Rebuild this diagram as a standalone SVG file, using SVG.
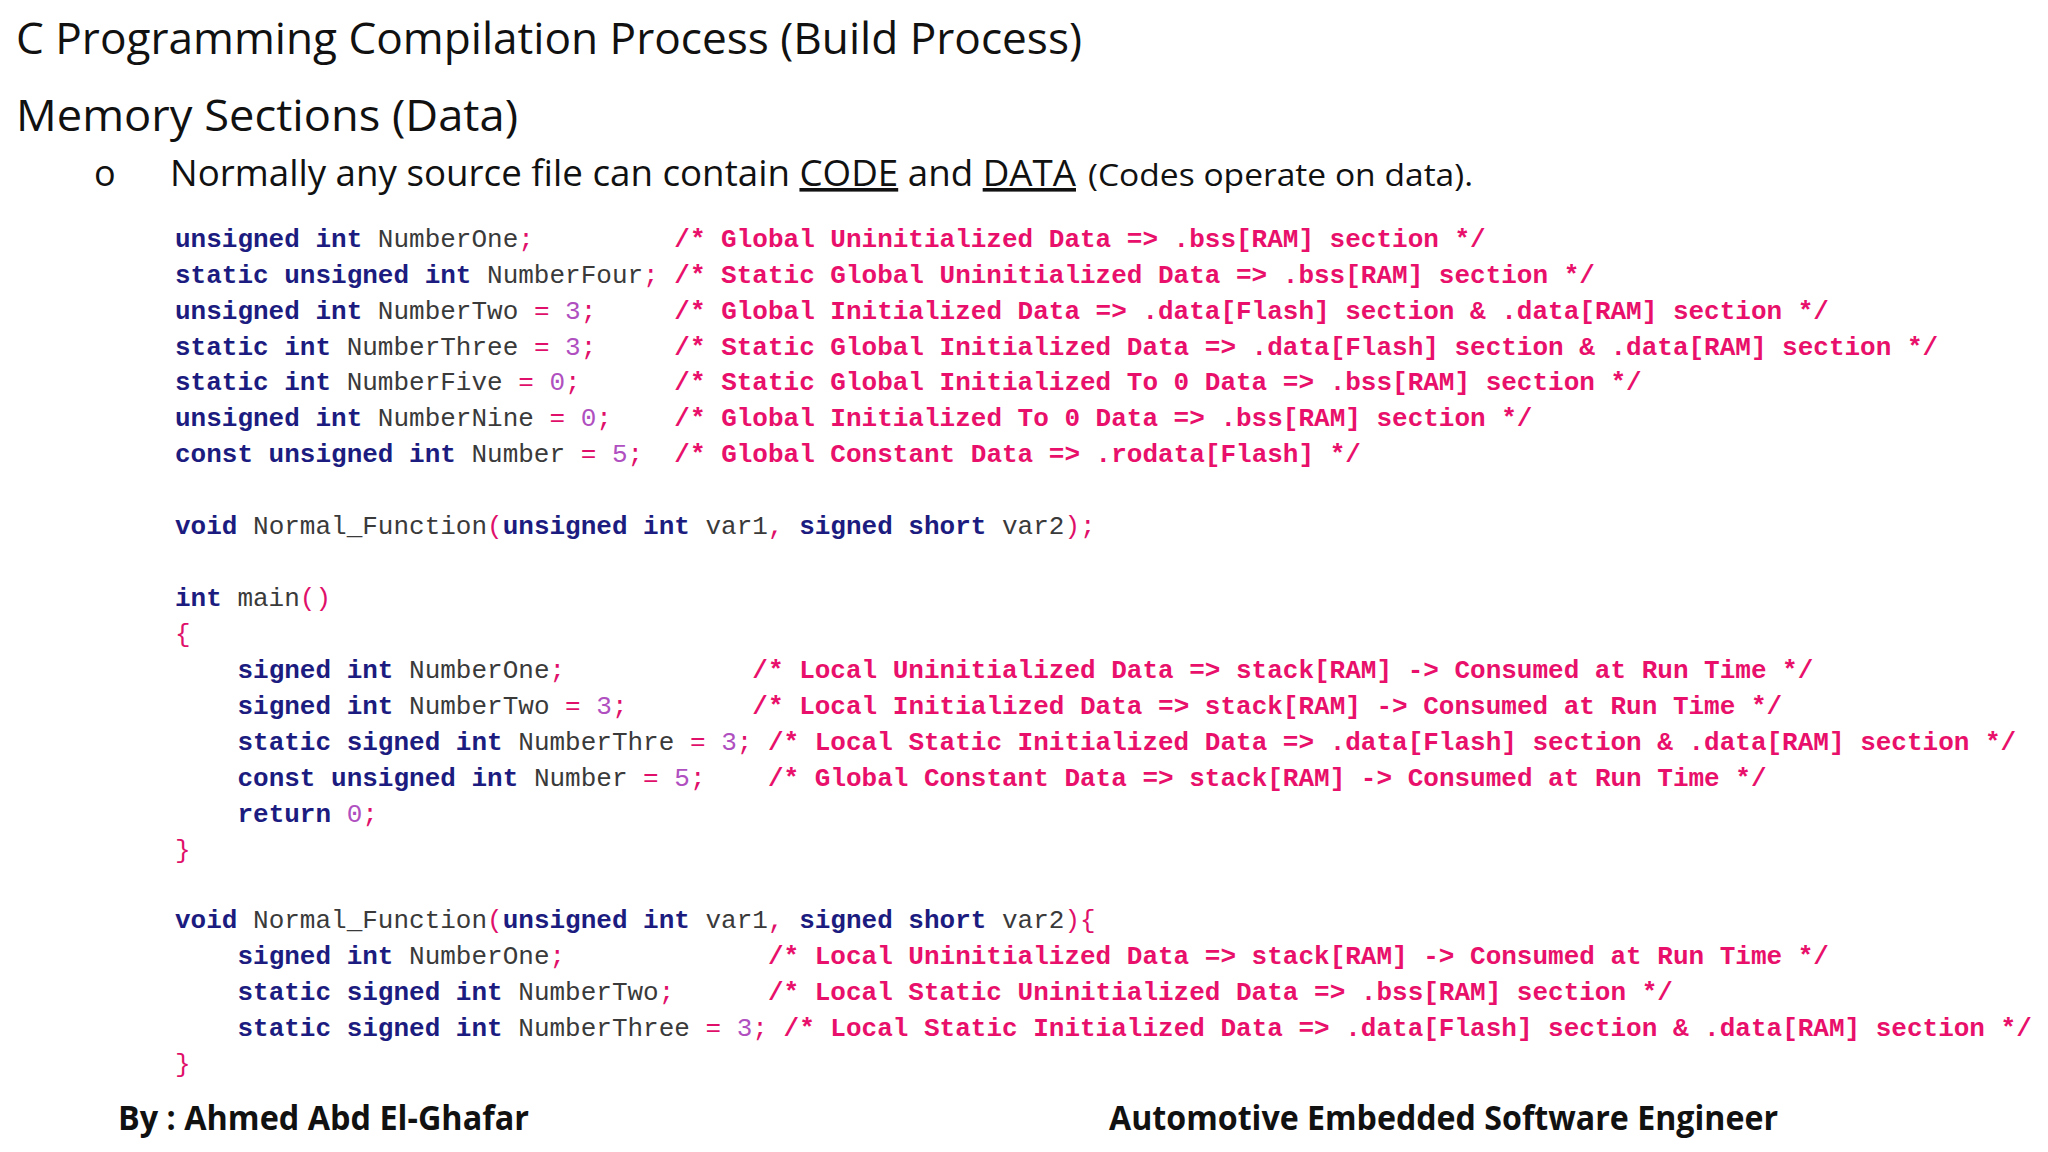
<svg xmlns="http://www.w3.org/2000/svg" width="2048" height="1152" viewBox="0 0 2048 1152">
<style>
.h{font-family:"Open Sans","Liberation Sans",sans-serif;fill:#111}
.code{font-family:"Liberation Mono","Courier New",monospace;font-size:26px;white-space:pre}
.k{fill:#1c1c80;font-weight:bold}
.i{fill:#3a3a3a}
.p{fill:#e0106a}
.n{fill:#b050c0}
.c{fill:#e8106a;font-weight:bold}
</style>
<rect width="2048" height="1152" fill="#fff"/>
<g id="titles">
<text class="h" x="16" y="54" font-size="44" textLength="1066" lengthAdjust="spacingAndGlyphs">C Programming Compilation Process (Build Process)</text>
<text class="h" x="16" y="131" font-size="44" textLength="502" lengthAdjust="spacingAndGlyphs">Memory Sections (Data)</text>
<text class="h" x="94" y="186" font-size="36">o</text>
<text class="h" x="170" y="186" font-size="36" textLength="906" lengthAdjust="spacingAndGlyphs">Normally any source file can contain <tspan text-decoration="underline">CODE</tspan> and <tspan text-decoration="underline">DATA</tspan></text>
<text class="h" x="1088" y="186" font-size="31" textLength="385" lengthAdjust="spacingAndGlyphs">(Codes operate on data).</text>
</g>
<g id="code">
<text class="code" x="175" y="247"><tspan class="k">unsigned int</tspan><tspan class="i"> NumberOne</tspan><tspan class="p">;</tspan>         <tspan class="c">/* Global Uninitialized Data =&gt; .bss[RAM] section */</tspan></text>
<text class="code" x="175" y="283"><tspan class="k">static unsigned int</tspan><tspan class="i"> NumberFour</tspan><tspan class="p">;</tspan> <tspan class="c">/* Static Global Uninitialized Data =&gt; .bss[RAM] section */</tspan></text>
<text class="code" x="175" y="319"><tspan class="k">unsigned int</tspan><tspan class="i"> NumberTwo </tspan><tspan class="p">= </tspan><tspan class="n">3</tspan><tspan class="p">;</tspan>     <tspan class="c">/* Global Initialized Data =&gt; .data[Flash] section &amp; .data[RAM] section */</tspan></text>
<text class="code" x="175" y="355"><tspan class="k">static int</tspan><tspan class="i"> NumberThree </tspan><tspan class="p">= </tspan><tspan class="n">3</tspan><tspan class="p">;</tspan>     <tspan class="c">/* Static Global Initialized Data =&gt; .data[Flash] section &amp; .data[RAM] section */</tspan></text>
<text class="code" x="175" y="390"><tspan class="k">static int</tspan><tspan class="i"> NumberFive </tspan><tspan class="p">= </tspan><tspan class="n">0</tspan><tspan class="p">;</tspan>      <tspan class="c">/* Static Global Initialized To 0 Data =&gt; .bss[RAM] section */</tspan></text>
<text class="code" x="175" y="426"><tspan class="k">unsigned int</tspan><tspan class="i"> NumberNine </tspan><tspan class="p">= </tspan><tspan class="n">0</tspan><tspan class="p">;</tspan>    <tspan class="c">/* Global Initialized To 0 Data =&gt; .bss[RAM] section */</tspan></text>
<text class="code" x="175" y="462"><tspan class="k">const unsigned int</tspan><tspan class="i"> Number </tspan><tspan class="p">= </tspan><tspan class="n">5</tspan><tspan class="p">;</tspan>  <tspan class="c">/* Global Constant Data =&gt; .rodata[Flash] */</tspan></text>
<text class="code" x="175" y="534"><tspan class="k">void</tspan><tspan class="i"> Normal_Function</tspan><tspan class="p">(</tspan><tspan class="k">unsigned int</tspan><tspan class="i"> var1</tspan><tspan class="p">, </tspan><tspan class="k">signed short</tspan><tspan class="i"> var2</tspan><tspan class="p">);</tspan></text>
<text class="code" x="175" y="606"><tspan class="k">int</tspan><tspan class="i"> main</tspan><tspan class="p">()</tspan></text>
<text class="code" x="175" y="642"><tspan class="p">{</tspan></text>
<text class="code" x="175" y="678">    <tspan class="k">signed int</tspan><tspan class="i"> NumberOne</tspan><tspan class="p">;</tspan>            <tspan class="c">/* Local Uninitialized Data =&gt; stack[RAM] -&gt; Consumed at Run Time */</tspan></text>
<text class="code" x="175" y="714">    <tspan class="k">signed int</tspan><tspan class="i"> NumberTwo </tspan><tspan class="p">= </tspan><tspan class="n">3</tspan><tspan class="p">;</tspan>        <tspan class="c">/* Local Initialized Data =&gt; stack[RAM] -&gt; Consumed at Run Time */</tspan></text>
<text class="code" x="175" y="750">    <tspan class="k">static signed int</tspan><tspan class="i"> NumberThre </tspan><tspan class="p">= </tspan><tspan class="n">3</tspan><tspan class="p">;</tspan> <tspan class="c">/* Local Static Initialized Data =&gt; .data[Flash] section &amp; .data[RAM] section */</tspan></text>
<text class="code" x="175" y="786">    <tspan class="k">const unsigned int</tspan><tspan class="i"> Number </tspan><tspan class="p">= </tspan><tspan class="n">5</tspan><tspan class="p">;</tspan>    <tspan class="c">/* Global Constant Data =&gt; stack[RAM] -&gt; Consumed at Run Time */</tspan></text>
<text class="code" x="175" y="822">    <tspan class="k">return</tspan><tspan class="n"> 0</tspan><tspan class="p">;</tspan></text>
<text class="code" x="175" y="858"><tspan class="p">}</tspan></text>
<text class="code" x="175" y="928"><tspan class="k">void</tspan><tspan class="i"> Normal_Function</tspan><tspan class="p">(</tspan><tspan class="k">unsigned int</tspan><tspan class="i"> var1</tspan><tspan class="p">, </tspan><tspan class="k">signed short</tspan><tspan class="i"> var2</tspan><tspan class="p">){</tspan></text>
<text class="code" x="175" y="964">    <tspan class="k">signed int</tspan><tspan class="i"> NumberOne</tspan><tspan class="p">;</tspan>             <tspan class="c">/* Local Uninitialized Data =&gt; stack[RAM] -&gt; Consumed at Run Time */</tspan></text>
<text class="code" x="175" y="1000">    <tspan class="k">static signed int</tspan><tspan class="i"> NumberTwo</tspan><tspan class="p">;</tspan>      <tspan class="c">/* Local Static Uninitialized Data =&gt; .bss[RAM] section */</tspan></text>
<text class="code" x="175" y="1036">    <tspan class="k">static signed int</tspan><tspan class="i"> NumberThree </tspan><tspan class="p">= </tspan><tspan class="n">3</tspan><tspan class="p">;</tspan> <tspan class="c">/* Local Static Initialized Data =&gt; .data[Flash] section &amp; .data[RAM] section */</tspan></text>
<text class="code" x="175" y="1072"><tspan class="p">}</tspan></text>
</g>
<g id="footer">
<text class="h" x="118" y="1130" font-size="34" font-weight="bold" textLength="411" lengthAdjust="spacingAndGlyphs">By : Ahmed Abd El-Ghafar</text>
<text class="h" x="1109" y="1130" font-size="34" font-weight="bold" textLength="669" lengthAdjust="spacingAndGlyphs">Automotive Embedded Software Engineer</text>
</g>
</svg>
